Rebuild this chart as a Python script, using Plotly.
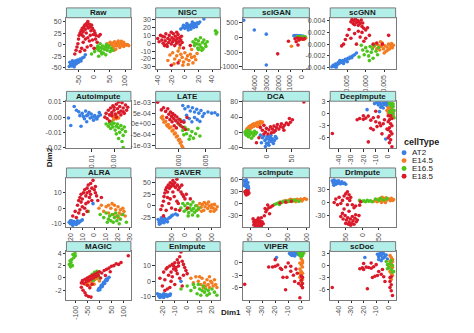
import plotly.graph_objects as go

# ---------------------------------------------------------------- data
CELL_TYPES = ["AT2", "E14.5", "E16.5", "E18.5"]
METHODS = ["Raw", "NISC", "scIGAN", "scGNN",
           "Autoimpute", "LATE", "DCA", "DeepImpute",
           "ALRA", "SAVER", "scImpute", "DrImpute",
           "MAGIC", "EnImpute", "VIPER", "scDoc"]

RAW_AT2 = [(-80,-47),(-76,-44),(-74,-40),(-72,-46),(-70,-42),(-68,-38),(-67,-45),(-65,-41),(-63,-36),(-62,-43),(-60,-39),(-58,-35),(-57,-41),(-55,-37),(-53,-33),(-50,-38),(-48,-34),(-45,-31),(-42,-35),(-38,-29),(-33,-27),(-70,-35),(-78,-38),(-28,-22),(-64,-48)]
RAW_E145 = [(38,-5),(42,2),(48,-2),(52,5),(56,0),(60,3),(63,-4),(66,6),(70,1),(73,-3),(76,4),(80,0),(83,-6),(86,3),(90,-2),(93,2),(96,-4),(100,1),(104,-1),(108,0),(112,-2),(70,-10),(58,-8),(88,7),(78,8),(65,-12),(95,5)]
RAW_E165 = [(-8,-20),(2,-15),(8,-8),(12,-3),(15,-12),(18,-6),(20,2),(22,-15),(25,-8),(28,-3),(30,-18),(33,-10),(36,-5),(38,-22),(42,-12),(45,-7),(48,-3),(52,-15),(55,-8),(15,-25),(25,-20),(60,-12),(40,0)]
RAW_E185 = [(-62,-20),(-58,-12),(-55,-5),(-52,2),(-50,12),(-48,20),(-45,25),(-42,30),(-40,22),(-38,35),(-35,28),(-33,38),(-30,42),(-28,33),(-25,45),(-22,40),(-20,50),(-18,36),(-15,44),(-12,38),(-10,30),(-8,42),(-5,35),(0,30),(3,25),(6,20),(-2,22),(-12,20),(-20,15),(-28,12),(-15,8),(-5,10),(5,12),(15,18),(10,5),(-35,5),(-40,-8),(-30,-12),(-22,-5),(-10,-2),(0,-8),(-45,-15),(-25,25),(-35,18),(20,22)]

NISC_AT2 = [(-6,18),(-3,20),(0,19),(2,22),(4,20),(6,23),(8,21),(10,24),(12,22),(14,25),(16,23),(18,26),(20,25),(5,17),(9,18),(13,20),(17,21),(22,27),(-2,23),(28,31),(3,25),(11,27)]
NISC_E145 = [(-22,-15),(-18,-12),(-15,-20),(-12,-16),(-10,-10),(-8,-22),(-6,-14),(-4,-18),(-2,-24),(0,-12),(2,-20),(4,-16),(6,-22),(8,-14),(10,-18),(12,-25),(14,-17),(16,-21),(-3,-28),(5,-27),(-16,-26),(18,-13),(-8,-6),(10,-8),(-25,-22)]
NISC_E165 = [(12,2),(14,-3),(16,5),(18,-1),(19,-6),(20,3),(22,-2),(23,7),(24,-5),(26,1),(27,-7),(28,4),(30,-1),(31,-4),(33,2),(20,-8),(25,-9),(15,0),(45,16),(46,12),(47,14)]
NISC_E185 = [(-40,6),(-38,2),(-36,10),(-34,4),(-32,0),(-30,8),(-29,3),(-28,12),(-27,-2),(-25,6),(-24,1),(-23,10),(-22,4),(-20,-1),(-19,7),(-18,2),(-17,12),(-16,5),(-15,-3),(-14,9),(-13,3),(-12,0),(-11,6),(-10,11),(-9,2),(-8,7),(-7,-2),(-6,4),(-5,9),(-4,1),(-20,14),(-26,-4),(-33,9),(-12,14),(-30,-3),(-2,-6),(8,-3),(-20,-28),(-10,-25)]

SCIGAN_AT2 = [(-4880,580),(-4000,250),(-3000,110),(-3000,-940),(-700,55),(-600,60),(-500,58),(-400,55),(-300,52),(-200,50),(-100,45),(0,40),(100,35),(-550,40)]
SCIGAN_E145 = [(-900,-300),(-300,-100),(-100,-60),(0,-40),(100,-50),(200,-30),(300,-20),(-200,-20),(50,-10),(150,-70)]
SCIGAN_E165 = [(-300,20),(-200,30),(-100,10),(0,0),(100,10),(200,-5),(-50,-10),(-400,30),(250,20)]
SCIGAN_E185 = [(-2050,-560),(-1150,-130),(-500,-150),(-350,-260),(-250,-80),(-600,-50),(-150,-30),(50,-60),(-400,-20),(200,-40)]

SCGNN_AT2 = [(-0.0092,-0.0039),(-0.0088,-0.0036),(-0.0085,-0.0038),(-0.0082,-0.0034),(-0.0078,-0.0036),(-0.0075,-0.0032),(-0.0072,-0.0033),(-0.0068,-0.0030),(-0.0065,-0.0031),(-0.0062,-0.0028),(-0.0058,-0.0029),(-0.0055,-0.0026),(-0.0052,-0.0027),(-0.0048,-0.0024),(-0.0045,-0.0025),(-0.0042,-0.0022),(-0.0038,-0.0023),(-0.0035,-0.0020),(-0.0030,-0.0018),(-0.0080,-0.0040),(-0.0070,-0.0028),(-0.0060,-0.0033),(-0.0050,-0.0030),(-0.0025,-0.0015)]
SCGNN_E145 = [(0.0022,-0.0004),(0.0026,0.0000),(0.0030,-0.0008),(0.0034,-0.0002),(0.0038,-0.0010),(0.0042,-0.0004),(0.0045,0.0002),(0.0048,-0.0008),(0.0052,-0.0003),(0.0055,-0.0012),(0.0058,-0.0005),(0.0062,0.0000),(0.0065,-0.0008),(0.0068,-0.0003),(0.0072,-0.0006),(0.0075,-0.0002),(0.0050,-0.0015),(0.0040,0.0004),(0.0060,-0.0010),(0.0070,0.0001)]
SCGNN_E165 = [(-0.0012,-0.0002),(-0.0008,-0.0010),(-0.0004,-0.0018),(0.0000,-0.0006),(0.0004,-0.0012),(0.0008,-0.0020),(0.0012,-0.0004),(0.0015,-0.0014),(0.0018,-0.0008),(0.0020,-0.0024),(0.0024,-0.0002),(0.0028,-0.0012),(0.0032,-0.0018),(0.0035,-0.0006),(0.0010,-0.0028),(-0.0018,-0.0022)]
SCGNN_E185 = [(-0.0040,0.0038),(-0.0037,0.0042),(-0.0034,0.0035),(-0.0032,0.0040),(-0.0030,0.0033),(-0.0028,0.0043),(-0.0025,0.0037),(-0.0022,0.0040),(-0.0020,0.0032),(-0.0018,0.0038),(-0.0015,0.0035),(-0.0012,0.0041),(-0.0010,0.0030),(-0.0008,0.0036),(-0.0005,0.0027),(0.0000,0.0024),(-0.0045,0.0025),(-0.0050,0.0015),(-0.0055,0.0008),(-0.0060,0.0000),(-0.0065,-0.0003),(-0.0040,0.0010),(-0.0030,0.0018),(-0.0020,0.0022),(-0.0015,0.0012),(-0.0010,0.0020),(0.0000,0.0010),(0.0010,0.0015),(-0.0005,0.0005),(0.0020,0.0000),(0.0030,0.0002),(0.0045,0.0000),(0.0062,0.0015),(-0.0025,0.0000),(0.0005,0.0028)]

AUTO_AT2 = [(-0.0200,-0.0005),(-0.0190,-0.0055),(-0.0175,0.0070),(-0.0165,0.0045),(-0.0155,0.0035),(-0.0150,0.0010),(-0.0145,-0.0060),(-0.0140,0.0025),(-0.0130,-0.0010),(-0.0125,0.0040),(-0.0120,-0.0030),(-0.0115,0.0015),(-0.0110,0.0030),(-0.0105,-0.0005),(-0.0100,0.0020),(-0.0095,0.0000),(-0.0090,-0.0020),(-0.0085,0.0010),(-0.0080,-0.0005),(-0.0075,-0.0012),(-0.0070,0.0005),(-0.0065,0.0030),(-0.0060,0.0015),(-0.0120,0.0010),(-0.0135,0.0005)]
AUTO_E145 = [(-0.0005,0.0005),(0.0000,-0.0005),(0.0005,0.0010),(0.0010,-0.0010),(0.0015,0.0000),(0.0020,-0.0005),(0.0008,0.0018),(-0.0002,-0.0015)]
AUTO_E165 = [(-0.0035,-0.0045),(-0.0025,-0.0060),(-0.0020,-0.0040),(-0.0015,-0.0075),(-0.0010,-0.0050),(-0.0005,-0.0065),(0.0000,-0.0040),(0.0005,-0.0085),(0.0010,-0.0060),(0.0015,-0.0045),(0.0020,-0.0070),(0.0025,-0.0100),(0.0030,-0.0055),(0.0035,-0.0080),(0.0040,-0.0120),(0.0045,-0.0065),(0.0020,-0.0140),(0.0035,-0.0160),(0.0040,-0.0200),(0.0050,-0.0095),(-0.0010,-0.0030),(0.0010,-0.0110)]
AUTO_E185 = [(-0.0040,0.0000),(-0.0035,0.0025),(-0.0030,-0.0010),(-0.0025,0.0045),(-0.0020,0.0015),(-0.0015,0.0060),(-0.0010,0.0030),(-0.0005,0.0075),(0.0000,0.0045),(0.0005,0.0020),(0.0010,0.0085),(0.0015,0.0055),(0.0020,0.0030),(0.0025,0.0070),(0.0030,0.0040),(0.0035,0.0095),(0.0040,0.0060),(0.0045,0.0025),(0.0050,0.0080),(0.0055,0.0045),(0.0060,0.0065),(0.0010,0.0000),(-0.0010,0.0010),(0.0030,0.0015),(0.0020,0.0100),(-0.0020,-0.0025),(0.0040,0.0035),(0.0000,0.0065)]

LATE_AT2 = [(0.0008,8.5e-4),(0.0012,7.0e-4),(0.0018,8.0e-4),(0.0022,6.0e-4),(0.0026,7.5e-4),(0.0030,5.5e-4),(0.0034,6.8e-4),(0.0038,5.0e-4),(0.0042,6.2e-4),(0.0048,4.8e-4),(0.0055,5.5e-4),(0.0062,5.0e-4),(0.0068,5.2e-4),(0.0073,4.2e-4),(0.0015,4.0e-4),(0.0020,2.5e-4),(0.0025,1.0e-4),(0.0030,3.0e-4),(0.0010,1.5e-4),(0.0035,2.0e-4),(0.0045,3.5e-4),(0.0040,1.2e-4)]
LATE_E145 = [(-0.0032,3.0e-4),(-0.0029,2.2e-4),(-0.0027,0.8e-4),(-0.0024,1.2e-4),(-0.0022,-0.5e-4),(-0.0019,-0.2e-4),(-0.0017,-1.8e-4),(-0.0014,-1.4e-4),(-0.0012,-3.2e-4),(-0.0010,-2.8e-4),(-0.0008,-4.6e-4),(-0.0006,-4.2e-4),(-0.0004,-6.0e-4),(-0.0002,-5.5e-4),(0.0000,-7.4e-4),(0.0002,-7.0e-4),(0.0003,-8.8e-4),(0.0005,-8.3e-4),(0.0006,-1.0e-3),(0.0008,-1.08e-3),(-0.0030,3.6e-4),(-0.0020,-1.0e-4)]
LATE_E165 = [(-0.0005,1.5e-4),(0.0000,0.0),(0.0005,-1.0e-4),(0.0008,-3.0e-4),(0.0012,-1.5e-4),(0.0015,-4.5e-4),(0.0018,-2.5e-4),(0.0022,-5.5e-4),(0.0025,-3.5e-4),(0.0028,-6.5e-4),(0.0032,-4.5e-4),(0.0036,-2.0e-4),(0.0020,-7.0e-4),(0.0010,-5.0e-4),(0.0040,-5.5e-4),(0.0003,2.0e-4)]
LATE_E185 = [(-0.0039,1.0e-3),(-0.0032,6.5e-4),(-0.0028,7.5e-4),(-0.0024,5.8e-4),(-0.0020,7.0e-4),(-0.0018,4.5e-4),(-0.0015,5.5e-4),(-0.0013,3.5e-4),(-0.0011,4.8e-4),(-0.0009,2.5e-4),(-0.0007,4.0e-4),(-0.0005,1.5e-4),(-0.0003,3.2e-4),(-0.0001,0.5e-4),(0.0001,2.2e-4),(0.0003,-0.5e-4),(0.0005,1.2e-4),(0.0008,-1.5e-4),(0.0010,0.8e-4),(0.0013,-2.5e-4),(-0.0012,1.0e-4),(-0.0008,-0.8e-4),(-0.0004,-1.8e-4),(-0.0016,2.0e-4),(0.0016,3.0e-4),(-0.0022,3.0e-4)]

DCA_AT2 = [(-12,-8),(-8,-15),(-5,-10),(-3,-22),(0,-18),(2,-12),(4,-28),(6,-20),(8,-14),(10,-25),(12,-18),(14,-30),(16,-22),(18,-12),(0,-30),(5,-35),(-2,-38),(20,-16),(9,-8),(-10,-28)]
DCA_E145 = [(-40,6),(-38,10),(-35,14),(-32,17),(-30,12),(-28,20),(-25,22),(-22,18),(-20,24),(-17,26),(-15,22),(-12,28),(-10,24),(-33,8),(-26,15),(-18,15),(-8,27),(-14,18)]
DCA_E165 = [(-43,0),(-42,-5),(-40,-8),(-38,-2),(-36,-12),(-35,3),(-33,-6),(-30,-16),(-28,-3),(-26,-10),(-24,2),(-22,-5),(-20,-1),(-38,5),(-31,0)]
DCA_E185 = [(-12,12),(-8,5),(-5,18),(-2,0),(0,10),(3,-5),(5,6),(8,14),(10,-2),(12,8),(15,16),(18,4),(20,12),(22,20),(25,8),(28,15),(30,22),(33,12),(36,18),(40,24),(44,20),(48,26),(52,33),(46,36),(75,80),(-20,-28),(-5,-5),(15,0),(35,5),(-15,-15)]

DEEP_AT2 = [(-9,2.8),(-8,2.2),(-7,2.9),(-6,2.4),(-5,1.9),(-4,2.7),(-3,2.3),(-2,2.8),(-1,2.0),(0,2.6),(-6,1.6),(-17,1.0),(-7,0.5),(-2,-6.3),(-11,2.5),(-4,1.4)]
DEEP_E145 = [(0,1.5),(1,1.0),(2,0.5),(3,0.0),(0,0.2),(1,-0.5),(2,-1.0),(3,1.2),(4,0.5),(4,-0.5),(-1,0.8),(2,1.8)]
DEEP_E165 = [(1,2.5),(2,2.0),(3,2.6),(4,1.8),(3,1.0),(4,0.0),(5,0.8),(2,0.0),(5,-1.0),(4,2.4),(3,-0.6),(1,0.5)]
DEEP_E185 = [(-45,-4.9),(-25,-1.5),(-23,-1.2),(-20,-1.4),(-18,-1.1),(-16,-0.6),(-14,-1.6),(-12,-1.0),(-10,-2.0),(-8,-0.8),(-6,-3.0),(-4,-2.5),(-14,-3.6),(-12,-4.0),(-5,-5.0),(-10,0.6),(-7,-2.3),(-16,-7.0),(-20,-0.5),(-3,-1.5),(-9,-3.2),(0,-0.5),(1,-1.5),(2,-2.5),(1,-3.5),(2,-4.5),(1,-5.5),(2,-6.5),(1,-7.2),(3,-8.2),(0,-2.0),(3,-3.0),(0,-4.0),(3,-5.0),(0,-6.0),(2,-0.5),(3,-1.2),(-1,-3.8)]

ALRA_AT2 = [(-21,-9),(-20,-10),(-19,-8),(-18,-9.5),(-17,-8.5),(-16,-10),(-15,-9),(-14,-8),(-13,-9.5),(-12,-8.5),(-11,-8),(-10,-7.5),(-20,-8),(-18,-11),(-15,-10.5),(-1,3)]
ALRA_E145 = [(4,0),(6,2),(8,-2),(10,1),(12,-3),(14,0),(16,-4),(17,2),(18,-1),(19,-5),(20,1),(21,-3),(22,-1),(23,-4),(24,0),(25,-2),(26,-5),(15,3),(20,-6),(12,2)]
ALRA_E165 = [(-5,-2),(5,-4),(8,-6),(10,-3),(12,-7),(13,-5),(14,-8),(15,-4),(16,-9),(17,-6),(18,-3),(19,-8),(20,-5),(22,-7),(24,-4),(27,-9),(11,-9),(21,-10)]
ALRA_E185 = [(-18,-5),(-16,-2),(-15,-6),(-14,2),(-13,5),(-12,7),(-11,9),(-10,6),(-9,10),(-8,12),(-7,8),(-6,13),(-5,15),(-4,11),(-3,16),(-2,13),(-1,18),(0,12),(1,10),(2,8),(-4,7),(-2,5),(-7,3),(-10,1),(-12,-1),(-8,0),(-6,-2),(-5,4),(3,5),(6,7),(-9,-4),(-11,4),(-3,9),(1,14),(-6,10),(-13,-3)]

SAVER_AT2 = [(-100,-30),(-96,-36),(-92,-33),(-90,-38),(-86,-30),(-84,-35),(-80,-32),(-78,-37),(-75,-28),(-72,-33),(-68,-30),(-65,-35),(-60,-27),(-55,-25),(-50,-22),(-45,-20),(-35,-18),(-28,-20),(-88,-26),(-95,-40)]
SAVER_E145 = [(45,0),(50,-8),(55,5),(60,-3),(65,3),(70,-10),(75,-2),(80,4),(85,-6),(90,0),(95,-12),(100,2),(105,-5),(110,3),(115,-8),(120,-2),(88,8),(72,7),(62,-12),(98,-4),(108,-12)]
SAVER_E165 = [(-15,-5),(-8,5),(-3,-12),(0,0),(5,-8),(10,5),(14,-15),(18,-5),(22,2),(25,-10),(28,-20),(32,-6),(36,-14),(40,0),(44,-10),(48,-22),(30,8),(12,-22),(52,-5)]
SAVER_E185 = [(-90,-8),(-85,0),(-80,10),(-78,20),(-75,28),(-72,35),(-68,40),(-65,30),(-62,45),(-58,38),(-55,50),(-52,42),(-48,48),(-45,55),(-42,44),(-38,50),(-35,40),(-30,58),(-28,45),(-25,35),(-20,40),(-15,30),(-10,25),(-5,20),(0,15),(-12,45),(-45,30),(-40,20),(-55,15),(-60,5),(-50,-5),(-35,-8),(-20,-10),(-70,-10),(-80,-22),(-30,10),(5,25),(20,15),(-65,18),(-25,5),(10,-5)]

SCIMP_AT2 = [(-66,58),(-64,52),(-63,48),(-62,55),(-61,45),(-60,50),(-59,42),(-58,47),(-57,40),(-56,53),(-55,44),(-54,38),(-65,45),(-60,60)]
SCIMP_E145 = [(38,6),(45,8),(50,5),(55,9),(60,7),(65,10),(70,8),(75,11),(80,9),(85,12),(90,10),(95,13),(100,11),(72,5),(88,7),(58,11)]
SCIMP_E165 = [(15,-2),(20,0),(25,2),(30,4),(35,3),(40,6),(45,5),(50,7),(55,6),(60,8),(65,7),(70,9),(80,6),(28,-2)]
SCIMP_E185 = [(-64,30),(-62,25),(-60,33),(-58,28),(-56,24),(-55,32),(-53,27),(-60,22),(-42,-38),(-40,-45),(-38,-50),(-36,-42),(-34,-48),(-32,-55),(-30,-40),(-28,-46),(-26,-52),(-24,-43),(-22,-49),(-20,-55),(-18,-45),(-35,-56),(-28,-36),(-15,-50),(-40,-53),(-25,-58),(-10,-12),(-5,-15),(0,-10),(5,-8),(10,-5),(-8,-20),(-12,-30),(2,-25),(-3,-3),(30,2),(45,4),(60,6),(-20,-35)]

DRIMP_AT2 = [(-91,50),(-88,45),(-85,52),(-82,47),(-80,42),(-78,49),(-75,44),(-72,50),(-70,46),(-66,43),(-62,48),(-58,44),(-54,45),(-50,42),(-86,40)]
DRIMP_E145 = [(35,3),(40,6),(45,2),(50,8),(55,4),(60,12),(62,5),(65,9),(68,3),(72,11),(75,6),(80,8),(85,4),(88,10),(92,5),(95,7),(70,0),(58,0)]
DRIMP_E165 = [(-8,5),(0,3),(5,4),(10,2),(15,5),(20,3),(25,4),(30,2),(40,8),(50,5),(55,10),(65,6),(75,9)]
DRIMP_E185 = [(-85,0),(-80,8),(-75,-5),(-70,12),(-65,-2),(-60,5),(-55,15),(-50,20),(-45,10),(-40,18),(-38,5),(-35,12),(-45,-5),(-30,-5),(-25,-12),(-20,-8),(-55,-15),(-60,-25),(-65,-32),(-58,-38),(-52,-30),(-48,-40),(-44,-35),(-40,-45),(-36,-38),(-32,-48),(-28,-42),(-25,-50),(-22,-36),(-18,-44),(-15,-40),(-35,-52),(-42,-50),(-30,-32),(-20,-28),(-10,-30),(-50,-48),(-45,25),(-40,-20),(-5,2),(-8,-6)]

MAGIC_AT2 = [(-5,-2.0),(0,-1.75),(5,-1.5),(10,-1.25),(15,-1.0),(20,-0.75),(25,-0.5),(30,-0.3),(35,-0.1),(40,0.1),(2,-1.9),(12,-1.4),(22,-0.9),(32,-0.4),(-2,-1.7),(8,-1.2),(18,-0.7),(28,-0.2)]
MAGIC_E145 = [(-60,-1.0),(-55,-0.2),(-50,-0.8),(-45,0.1),(-40,-0.6),(-35,0.3),(-30,-0.5),(-25,0.5),(-20,-0.3),(-15,0.6),(-10,-0.1),(-5,0.2),(0,-0.5),(-38,-1.2),(-22,-1.0),(-48,-0.3),(-12,0.3),(-28,0.1)]
MAGIC_E165 = [(-125,2.2),(-122,2.8),(-118,2.5),(-115,3.0),(-112,2.0),(-110,3.8),(-106,3.3),(-102,4.0),(-100,3.6),(-120,1.8),(-30,0.6),(-20,0.9),(-10,1.1),(-25,-0.4),(-15,0.4),(-5,0.6),(0,0.0)]
MAGIC_E185 = [(-75,-0.8),(-70,-0.4),(-65,-0.9),(-60,-0.2),(-55,-0.6),(-50,0.0),(-45,-0.4),(-40,0.2),(-35,-0.2),(-30,0.4),(-25,0.0),(-20,0.6),(-15,0.2),(-10,0.8),(-5,0.4),(0,1.0),(10,0.8),(20,1.2),(30,1.4),(40,1.6),(50,1.9),(60,2.0),(70,2.3),(80,2.2),(90,2.5),(120,3.6),(-60,-2.4),(-55,-2.8),(-45,-3.0),(-35,-3.1),(-75,-1.5),(-68,-2.0),(-50,-1.2),(-40,-1.6),(-30,-1.0),(5,0.0),(25,0.4),(45,1.0)]

ENIMP_AT2 = [(-24,-8),(-23,-9.5),(-22,-8.5),(-21,-10),(-20,-9),(-19,-8),(-18,-9.5),(-17,-8.5),(-16,-9.8),(-15,-8.8),(-14,-9.2),(-13.5,-8.2),(-22,-10.5),(-19,-10.5),(-5,0)]
ENIMP_E145 = [(3,2),(5,-1),(7,3),(9,0),(11,-2),(12,2),(14,-1),(15,-3),(16,1),(17,-2),(18,-4),(19,0),(20,-1),(21,-3),(22,1),(23,-2),(24,-4),(13,-4),(10,3),(18,3)]
ENIMP_E165 = [(-5,-5),(0,-3),(3,-6),(6,-4),(8,-8),(10,-5),(11,-9),(12,-6),(13,-3),(14,-7),(15,-5),(16,-9),(17,-6),(18,-8),(20,-5),(22,-7),(24,-9),(5,-2),(9,-2)]
ENIMP_E185 = [(-22,2),(-20,-3),(-19,6),(-18,1),(-17,8),(-16,-5),(-15,4),(-14,10),(-13,6),(-12,11),(-11,8),(-10,12),(-9,9),(-8,14),(-7,10),(-6,16),(-5,19),(-4,13),(-3,11),(-2,9),(-1,7),(0,5),(-8,5),(-12,3),(-10,-2),(-14,-4),(-6,2),(-4,-3),(-16,9),(-7,12),(-11,10),(-9,7),(-3,4),(-13,0),(-18,-6)]

VIPER_AT2 = [(-9,2.3),(-8,2.0),(-7,2.4),(-6,2.1),(-5,2.5),(-4,2.2),(-3,2.4),(-2,2.0),(-19,1.3),(-7,1.8),(-5,1.7)]
VIPER_E145 = [(0,1.0),(1,0.5),(-1,0.0),(0,-0.5),(1,-1.0),(-1,-1.5),(0,-2.0),(1,-2.5),(0,-3.0),(-1,-3.5),(1,-4.0),(0,-4.5),(1,0),(-1,-2.5),(0,1.5)]
VIPER_E165 = [(-2,2.4),(-1,2.2),(0,2.5),(1,2.3),(2,2.4),(-1,1.9),(1,1.8),(0,1.5)]
VIPER_E185 = [(-43.5,-5.2),(-25,-1.0),(-22,-1.0),(-20,-0.8),(-18,-0.5),(-16,-1.3),(-15,-1.6),(-12,-1.0),(-10,0.0),(-8,-2.0),(-6,-3.0),(-3,-2.5),(-14,-3.5),(-11,-3.5),(-5,-4.5),(-12,-6.5),(-1,-8.5),(0,-3.2),(1,-5.0),(0,-5.5),(1,-6.0),(0,-4.2),(-20,0.8),(-8,-0.8),(-4,-1.5),(1,-3.5),(-2,-5)]

SCDOC_AT2 = [(-9,2.8),(-8,2.2),(-7,3.0),(-6,2.5),(-5,1.8),(-4,2.9),(-3,2.2),(-2,2.6),(-1,1.6),(-8,1.5),(-6,1.2),(-4,1.9),(-19,2.0),(-5,3.2)]
SCDOC_E145 = [(1,2.5),(2,2.0),(3,1.5),(1,1.0),(2,0.5),(3,-0.5),(1,-1.5),(2,-2.0),(3,-2.5),(2,-3.5),(3,1.0),(1,-0.2)]
SCDOC_E165 = [(-2,1.0),(-1,0.2),(0,-0.5),(1,0.5),(2,-1.0),(3,0.0),(4,-1.5),(2,1.2),(-1,-0.8),(3,-1.7)]
SCDOC_E185 = [(-45,-5.5),(-23,-0.8),(-21,-0.6),(-20,-1.0),(-18,-0.4),(-16,-0.5),(-14,-0.7),(-12,-0.3),(-10,0.2),(-8,-1.5),(-6,-2.2),(-4,-2.8),(-13,-3.0),(-11,-2.7),(-17,-5.8),(-3,-4.0),(-20,0.5),(-14,0.6),(1,-4.0),(2,-4.8),(1,-5.5),(2,-6.3),(3,-7.5),(1,-3.0),(2,-2.8),(-5,-1.0),(-9,-2.5)]

# tick values and labels per panel (x then y)
X_TICKS = [
    [-50, 0, 50, 100], [-40, -20, 0, 20, 40], [-4000, -3000, -2000, -1000, 0], [-0.005, 0.0, 0.005],
    [-0.01, 0.0], [0.0, 0.005], [0, 50], [-40, -30, -20, -10, 0],
    [-20, -10, 0, 10, 20, 30], [-50, 0, 50, 100], [-50, 0, 50, 100], [-50, 0, 50],
    [-100, -50, 0, 50, 100], [-20, -10, 0, 10, 20], [-40, -30, -20, -10, 0], [-40, -30, -20, -10, 0],
]
X_LABELS = [
    ["-50", "0", "50", "100"], ["-40", "-20", "0", "20", "40"], ["-4000", "-3000", "-2000", "-1000", "0"], ["-0.005", "0.000", "0.005"],
    ["-0.01", "0.00"], ["0.000", "0.005"], ["0", "50"], ["-40", "-30", "-20", "-10", "0"],
    ["-20", "-10", "0", "10", "20", "30"], ["-50", "0", "50", "100"], ["-50", "0", "50", "100"], ["-50", "0", "50"],
    ["-100", "-50", "0", "50", "100"], ["-20", "-10", "0", "10", "20"], ["-40", "-30", "-20", "-10", "0"], ["-40", "-30", "-20", "-10", "0"],
]
Y_TICKS = [
    [-50, -25, 0, 25, 50], [-30, -20, -10, 0, 10, 20, 30], [-1000, -500, 0, 500], [-0.004, -0.002, 0.0, 0.002, 0.004],
    [-0.02, -0.01, 0.0, 0.01], [-1e-3, -5e-4, 0.0, 5e-4, 1e-3], [-40, 0, 40, 80], [-6, -3, 0, 3],
    [-10, 0, 10], [-25, 0, 25, 50], [-30, 0, 30, 60], [-30, 0, 30],
    [-2, 0, 2, 4], [-10, 0, 10], [-9, -6, -3, 0, 3], [-6, -3, 0, 3],
]
Y_LABELS = [
    ["-50", "-25", "0", "25", "50"], ["-30", "-20", "-10", "0", "10", "20", "30"], ["-1000", "-500", "0", "500"], ["-0.004", "-0.002", "0.000", "0.002", "0.004"],
    ["-0.02", "-0.01", "0.00", "0.01"], ["-1e-03", "-5e-04", "0e+00", "5e-04", "1e-03"], ["-40", "0", "40", "80"], ["-6", "-3", "0", "3"],
    ["-10", "0", "10"], ["-25", "0", "25", "50"], ["-30", "0", "30", "60"], ["-30", "0", "30"],
    ["-2", "0", "2", "4"], ["-10", "0", "10"], ["-9", "-6", "-3", "0", "3"], ["-6", "-3", "0", "3"],
]

POINTS = [
    [RAW_AT2, RAW_E145, RAW_E165, RAW_E185],
    [NISC_AT2, NISC_E145, NISC_E165, NISC_E185],
    [SCIGAN_AT2, SCIGAN_E145, SCIGAN_E165, SCIGAN_E185],
    [SCGNN_AT2, SCGNN_E145, SCGNN_E165, SCGNN_E185],
    [AUTO_AT2, AUTO_E145, AUTO_E165, AUTO_E185],
    [LATE_AT2, LATE_E145, LATE_E165, LATE_E185],
    [DCA_AT2, DCA_E145, DCA_E165, DCA_E185],
    [DEEP_AT2, DEEP_E145, DEEP_E165, DEEP_E185],
    [ALRA_AT2, ALRA_E145, ALRA_E165, ALRA_E185],
    [SAVER_AT2, SAVER_E145, SAVER_E165, SAVER_E185],
    [SCIMP_AT2, SCIMP_E145, SCIMP_E165, SCIMP_E185],
    [DRIMP_AT2, DRIMP_E145, DRIMP_E165, DRIMP_E185],
    [MAGIC_AT2, MAGIC_E145, MAGIC_E165, MAGIC_E185],
    [ENIMP_AT2, ENIMP_E145, ENIMP_E165, ENIMP_E185],
    [VIPER_AT2, VIPER_E145, VIPER_E165, VIPER_E185],
    [SCDOC_AT2, SCDOC_E145, SCDOC_E165, SCDOC_E185],
]

# ---------------------------------------------------------------- layout / style
W, H = 474, 333
COLORS = {"AT2": "#3A80E4", "E14.5": "#F47C20", "E16.5": "#4CC41C", "E18.5": "#DA1A2A"}
STRIP_FILL = "#B3EFE9"
BORDER = "#7A7A7A"
TICK_FONT = dict(family="Liberation Sans, Arial, sans-serif", size=7, color="#4D4D4D")
BOLD_FONT = "Liberation Sans, Arial, sans-serif"

COL_PX = [(65, 130), (155, 220), (243, 310), (331, 397)]
ROW_PX = [(15, 67), (100, 148), (178, 228), (253, 302)]
STRIP_H = 10

X_RANGE = [(-89, 119), (-43, 52), (-4950, 600), (-0.0096, 0.0081),
           (-0.0209, 0.0074), (-0.00426, 0.00778), (-47, 86), (-46.7, 6),
           (-23.3, 30.8), (-109, 131), (-69, 108), (-97, 101),
           (-137, 131), (-25.4, 26.6), (-44.8, 6.3), (-46.6, 5.5)]
Y_RANGE = [(-52, 58), (-32.5, 32.5), (-1067, 667), (-0.0042, 0.0045),
           (-0.0205, 0.0105), (-1.12e-3, 1.05e-3), (-43, 82), (-8.6, 3.1),
           (-12, 19.7), (-46, 61), (-58, 65), (-56, 57),
           (-3.5, 4.3), (-11.8, 19.4), (-8.9, 2.8), (-8.5, 3.5)]


def px_x(v):
    return v / W


def px_y(v):
    return 1 - v / H


fig = go.Figure()
layout = dict(
    width=W, height=H, margin=dict(l=0, r=0, t=0, b=0),
    paper_bgcolor="white", plot_bgcolor="white", showlegend=False,
)
shapes, annotations = [], []

for i, name in enumerate(METHODS):
    r, c = divmod(i, 4)
    x0, x1 = COL_PX[c]
    y0, y1 = ROW_PX[r]
    k = "" if i == 0 else str(i + 1)
    xa, ya = "xaxis" + k, "yaxis" + k
    layout[xa] = dict(
        domain=[px_x(x0), px_x(x1)], range=list(X_RANGE[i]), anchor="y" + k,
        tickvals=X_TICKS[i], ticktext=X_LABELS[i], tickangle=-90,
        showgrid=False, zeroline=False, showline=True, mirror=True,
        linecolor=BORDER, linewidth=1, ticks="outside", ticklen=2.5,
        tickcolor="#333333", tickfont=TICK_FONT,
    )
    layout[ya] = dict(
        domain=[px_y(y1), px_y(y0)], range=list(Y_RANGE[i]), anchor="x" + k,
        tickvals=Y_TICKS[i], ticktext=Y_LABELS[i],
        showgrid=False, zeroline=False, showline=True, mirror=True,
        linecolor=BORDER, linewidth=1, ticks="outside", ticklen=2.5,
        tickcolor="#333333", tickfont=TICK_FONT,
    )
    for ct, pts in zip(CELL_TYPES, POINTS[i]):
        fig.add_trace(go.Scatter(
            x=[p[0] for p in pts], y=[p[1] for p in pts], mode="markers",
            marker=dict(size=3.6, color=COLORS[ct], line=dict(width=0)),
            xaxis="x" + k, yaxis="y" + k, name=ct, hoverinfo="skip",
        ))
    # facet strip
    shapes.append(dict(
        type="rect", xref="paper", yref="paper",
        x0=px_x(x0), x1=px_x(x1), y0=px_y(y0), y1=px_y(y0 - STRIP_H),
        fillcolor=STRIP_FILL, line=dict(color=BORDER, width=1), layer="above",
    ))
    annotations.append(dict(
        text="<b>%s</b>" % name, xref="paper", yref="paper",
        x=px_x((x0 + x1) / 2), y=px_y(y0 - STRIP_H / 2), showarrow=False,
        font=dict(family=BOLD_FONT, size=8, color="#1A1A1A"),
        xanchor="center", yanchor="middle",
    ))

# axis titles
annotations.append(dict(text="<b>Dim1</b>", xref="paper", yref="paper",
                        x=px_x(231), y=px_y(322), showarrow=False,
                        font=dict(family=BOLD_FONT, size=8, color="#1A1A1A")))
annotations.append(dict(text="<b>Dim2</b>", xref="paper", yref="paper",
                        x=px_x(41), y=px_y(157), showarrow=False, textangle=-90,
                        font=dict(family=BOLD_FONT, size=8, color="#1A1A1A")))

# legend
annotations.append(dict(text="<b>cellType</b>", xref="paper", yref="paper",
                        x=px_x(403), y=px_y(142), showarrow=False, xanchor="left",
                        font=dict(family=BOLD_FONT, size=9, color="#1A1A1A")))
for j, ct in enumerate(CELL_TYPES):
    cy = 152.5 + j * 8
    shapes.append(dict(type="circle", xref="paper", yref="paper",
                       x0=px_x(403), x1=px_x(408), y0=px_y(cy + 2.5), y1=px_y(cy - 2.5),
                       fillcolor=COLORS[ct], line=dict(width=0)))
    annotations.append(dict(text=ct, xref="paper", yref="paper",
                            x=px_x(411), y=px_y(cy), showarrow=False, xanchor="left",
                            yanchor="middle",
                            font=dict(family=BOLD_FONT, size=8, color="#1A1A1A")))

layout["shapes"] = shapes
layout["annotations"] = annotations
fig.update_layout(**layout)
fig.write_html("out.html")
